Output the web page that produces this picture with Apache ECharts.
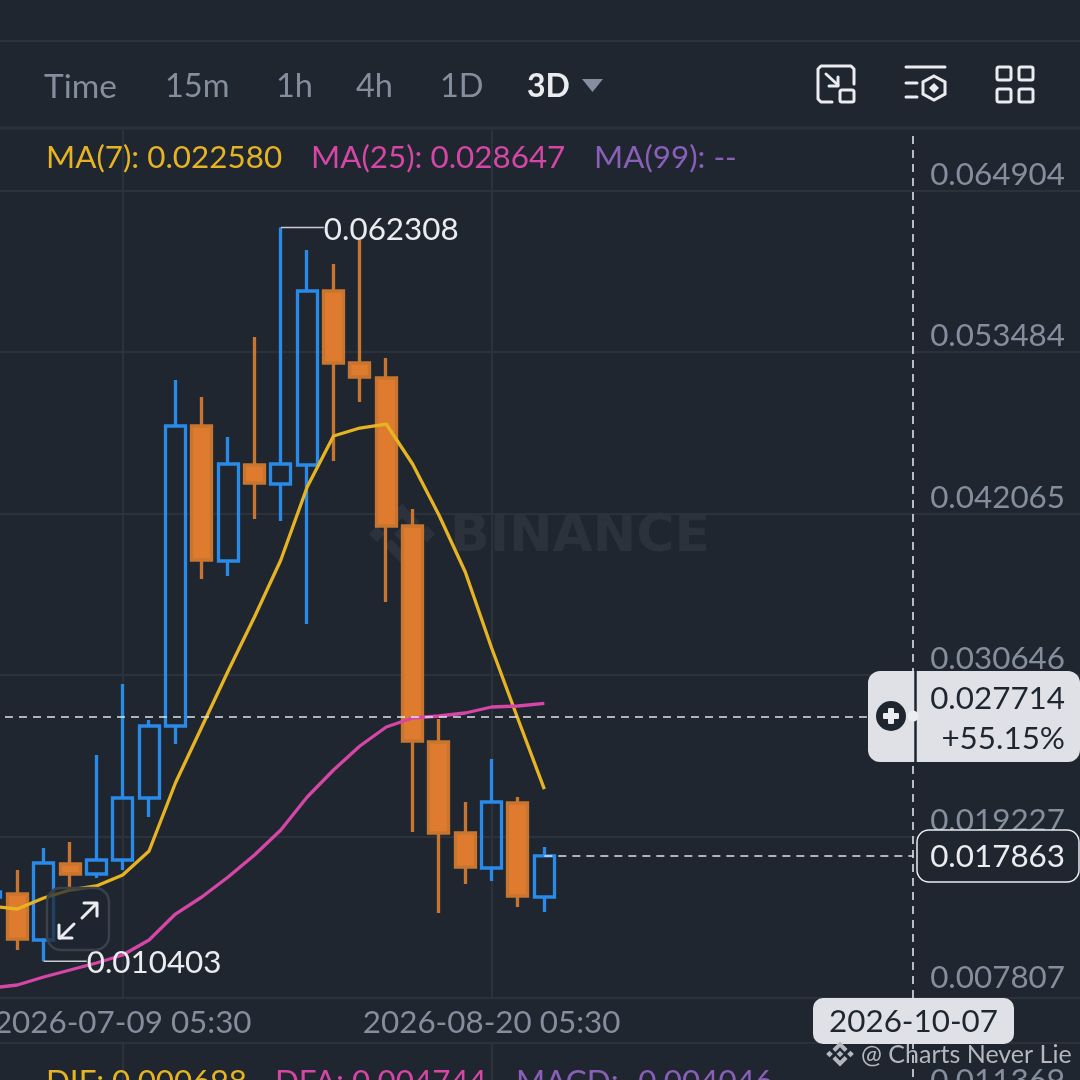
<!DOCTYPE html>
<html><head><meta charset="utf-8">
<style>html,body{margin:0;padding:0;background:#1f2630;overflow:hidden}#c{width:1080px;height:1080px}</style>
<script src="https://cdn.jsdelivr.net/npm/echarts@6/dist/echarts.min.js"></script>
</head><body><div id="c"></div>
<script>
const categories=['2026-06-24','2026-06-27','2026-06-30','2026-07-03','2026-07-06','2026-07-09','2026-07-12','2026-07-15','2026-07-18','2026-07-21','2026-07-24','2026-07-27','2026-07-30','2026-08-02','2026-08-05','2026-08-08','2026-08-11','2026-08-14','2026-08-17','2026-08-20','2026-08-23','2026-08-26','2026-08-29','2026-09-01','2026-09-04','2026-09-07','2026-09-10','2026-09-13','2026-09-16','2026-09-19','2026-09-22','2026-09-25','2026-09-28','2026-10-01','2026-10-04','2026-10-07','2026-10-10','2026-10-13','2026-10-16','2026-10-19','2026-10-22','2026-10-25'];
const opens =[.014950,.015162,.011909,.017284,.016576,.017567,.021952,.027044,.048262,.038714,.045503,.044160,.045503,.057810,.052717,.051657,.041189,.025912,.019476,.017001,.021598,.014950];
const closes=[.015303,.011979,.017354,.016576,.017567,.021952,.027044,.048262,.038784,.045574,.044230,.045574,.057810,.052717,.051727,.041189,.025983,.019476,.017072,.021669,.015021,.017863];
const lows  =[.014950,.011201,.010403,.015657,.016294,.016859,.020608,.025771,.037441,.037653,.041684,.041543,.034258,.045786,.049959,.035814,.019547,.013818,.015869,.016081,.014242,.013889];
const highs =[.015303,.016859,.018415,.018840,.024993,.030014,.027468,.051515,.050313,.047484,.054556,.062308,.060709,.059719,.061417,.053071,.042391,.027539,.021669,.024710,.022022,.018486];
const ma7 =[.014313,.014101,.014879,.015445,.015728,.016506,.018203,.023013,.026973,.030934,.034753,.038784,.043947,.047554,.048120,.048403,.045574,.041967,.037936,.032561,.027539,.022580];
const ma25=[.008514,.008726,.009292,.009787,.010282,.010848,.011909,.013747,.014950,.016364,.017920,.019688,.022022,.023932,.025629,.026973,.027610,.027751,.027963,.028388,.028458,.028647];
const priceTicks=[0.007807,0.019227,0.030646,0.042065,0.053484,0.064904];
const macdTicks=[0.011369];
const dateLabels=['2026-07-09','2026-08-20'];
const crossDate='2026-10-07', crossPrice=0.027714, lastPrice=0.017863, lastDate='2026-08-26';
const maxHigh=0.062308, minLow=0.010403;

const BG='#1f2630',GRID='#2b323c',GREY='#848e9c',LIGHT='#dfe1e6',BLUE='#2a8ae8',ORANGE='#de7b2e',ORANGE_B='#c8752f',FONT='Lato, sans-serif';
const FS=31.4;
const isDate=(i,v)=>dateLabels.includes(v);
function txt(text,x,y,fill,size,align,weight){return {type:'text',z:100,style:{text,x,y,fill,font:`${weight||'normal'} ${size||FS}px ${FONT}`,textAlign:align||'left',textVerticalAlign:'middle'},silent:true};}
function line(x1,y1,x2,y2,stroke,w,z){return {type:'line',z:z||100,shape:{x1,y1,x2,y2},style:{stroke,lineWidth:w||3,lineCap:'round'},silent:true};}
function pl(points,stroke,w,z){return {type:'polyline',z:z||100,shape:{points},style:{stroke,lineWidth:w||3,fill:'none',lineJoin:'round',lineCap:'round'},silent:true};}
function rr(x,y,w,h,r,fill,stroke,lw,z){return {type:'rect',z:z||90,shape:{x,y,width:w,height:h,r},style:{fill:fill||'none',stroke:stroke||'none',lineWidth:lw||0},silent:true};}
function poly(pts,fill,z,stroke,lw){return {type:'polygon',z:z||100,shape:{points:pts},style:{fill:fill||'none',stroke:stroke||'none',lineWidth:lw||0},silent:true};}
function dia(c,y,r,col,z){return poly([[c,y-r],[c+r,y],[c,y+r],[c-r,y]],col,z);}
function logo(cx,cy,s,col,z){const P=a=>a.map(p=>[cx+p[0]*s,cy+p[1]*s]);return [
 poly(P([[0,-30],[18,-12],[11,-5],[0,-16],[-11,-5],[-18,-12]]),col,z),
 poly(P([[0,30],[18,12],[11,5],[0,16],[-11,5],[-18,12]]),col,z),
 dia(cx,cy,8*s,col,z),dia(cx-25*s,cy,8*s,col,z),dia(cx+25*s,cy,8*s,col,z)];}

const dashed={color:LIGHT,type:[8,6],width:1.6};
const chart=echarts.init(document.getElementById('c'),null,{renderer:'canvas'});
chart.setOption({
 animation:false,backgroundColor:BG,
 grid:[{left:-22.2,top:130,width:1106.7,height:868,outerBoundsMode:'none'},{left:-22.2,top:1043,width:1106.7,height:160,outerBoundsMode:'none'}],
 xAxis:[
  {type:'category',gridIndex:0,data:categories,axisTick:{show:false},axisLine:{lineStyle:{color:GRID,width:2}},
   splitLine:{show:true,alignWithLabel:true,interval:isDate,lineStyle:{color:GRID,width:2}},
   axisLabel:{interval:isDate,color:GREY,fontFamily:FONT,fontSize:FS,margin:8,lineHeight:34,formatter:v=>v+' 05:30',hideOverlap:false}},
  {type:'category',gridIndex:1,position:'top',data:categories,axisTick:{show:false},axisLabel:{show:false},axisLine:{lineStyle:{color:GRID,width:2}},
   splitLine:{show:true,alignWithLabel:true,interval:isDate,lineStyle:{color:GRID,width:2}}}
 ],
 yAxis:[
  {type:'value',gridIndex:0,position:'right',min:0.007807,max:0.069197,axisLine:{show:false},
   axisTick:{show:false,customValues:priceTicks},splitLine:{show:true,lineStyle:{color:GRID,width:2}},
   axisLabel:{customValues:priceTicks,inside:true,margin:19.5,color:GREY,fontFamily:FONT,fontSize:FS,verticalAlign:'bottom',lineHeight:32,
    formatter:v=>v===priceTicks[0]?'{m|'+v.toFixed(6)+'}':v.toFixed(6),
    rich:{m:{color:GREY,fontFamily:FONT,fontSize:FS,lineHeight:40}},
    showMinLabel:true,showMaxLabel:true}},
  {type:'value',gridIndex:1,position:'right',min:0.00383,max:0.015,axisLine:{show:false},
   axisTick:{show:false,customValues:macdTicks},splitLine:{show:false},
   axisLabel:{customValues:macdTicks,inside:true,margin:19.5,color:GREY,fontFamily:FONT,fontSize:FS,verticalAlign:'bottom',lineHeight:28,formatter:v=>v.toFixed(6)}}
 ],
 series:[
  {type:'candlestick',name:'K',xAxisIndex:0,yAxisIndex:0,barWidth:20.5,z:3,
   itemStyle:{color:'rgba(0,0,0,0)',color0:ORANGE,borderColor:BLUE,borderColor0:ORANGE_B,borderWidth:3.3},
   data:opens.map((o,i)=>[o,closes[i],lows[i],highs[i]]),
   markPoint:{silent:true,symbol:'circle',symbolSize:0,animation:false,
    data:[
     {coord:[categories[highs.indexOf(maxHigh)],maxHigh],value:maxHigh},
     {coord:[categories[lows.indexOf(minLow)],minLow],value:minLow}
    ],
    label:{show:true,position:'right',distance:0,formatter:p=>'{l|}{t|'+p.value.toFixed(6)+'}',
     rich:{l:{width:43,height:1.5,backgroundColor:'#c9ccd1',verticalAlign:'middle'},
           t:{color:'#eaecef',fontFamily:FONT,fontSize:FS,lineHeight:36,verticalAlign:'middle',padding:[4,0,0,0]}}}},
   markLine:{silent:true,symbol:'none',animation:false,label:{show:false},lineStyle:dashed,
    data:[
     {xAxis:crossDate},
     [{xAxis:categories[0],yAxis:crossPrice},{xAxis:crossDate,yAxis:crossPrice}],
     [{xAxis:lastDate,yAxis:lastPrice},{xAxis:crossDate,yAxis:lastPrice}]
    ]}},
  {type:'line',name:'MA7',xAxisIndex:0,yAxisIndex:0,data:ma7,showSymbol:false,z:4,lineStyle:{color:'#e6b422',width:3.3},itemStyle:{color:'#e6b422'}},
  {type:'line',name:'MA25',xAxisIndex:0,yAxisIndex:0,data:ma25,showSymbol:false,z:4,lineStyle:{color:'#d646a6',width:3.3},itemStyle:{color:'#d646a6'}},
  {type:'line',name:'pane',xAxisIndex:1,yAxisIndex:1,data:[],showSymbol:false,
   markLine:{silent:true,symbol:'none',animation:false,label:{show:false},lineStyle:dashed,data:[{xAxis:crossDate}]}}
 ],
 graphic:[
  ...logo(402,534,1,'#2b323c',1),
  {type:'text',z:1,style:{text:'BINANCE',x:450,y:537,fill:'#2b323c',font:`bold 52px "DejaVu Sans"`,textAlign:'left',textVerticalAlign:'middle'},silent:true},
  line(0,41,1080,41,GRID,2),line(0,128,1080,128,GRID,3),
  txt('Time',44,87,GREY,33.5),txt('15m',165,87,GREY,32.5),txt('1h',276,87,GREY,32.5),txt('4h',356,87,GREY,32.5),txt('1D',440,87,GREY,32.5),
  txt('3D',527,87,'#eaecef',32,'left','bold'),
  poly([[582,79],[603,79],[592.5,92]],GREY),
  pl([[832,102],[821,102],[818,99],[818,69],[821,66],[851,66],[854,69],[854,84]],'#eaecef',3),
  line(826,74,838,85,'#eaecef',3),pl([[838,77],[838,86],[829,86]],'#eaecef',3),
  rr(840,90,14,12,2,'none','#eaecef',3,100),
  line(906,67,945,67,'#eaecef',3),line(906,83,917,83,'#eaecef',3),line(906,97,917,97,'#eaecef',3),
  poly([[934,76],[945,82],[945,94],[934,100],[923,94],[923,82]],null,100,'#eaecef',3),
  dia(934,88,5,'#eaecef',100),
  rr(997,67,14,13,2,'none','#eaecef',3,100),rr(1019,67,14,13,2,'none','#eaecef',3,100),rr(997,89,14,13,2,'none','#eaecef',3,100),rr(1019,89,14,13,2,'none','#eaecef',3,100),
  txt('MA(7): 0.022580',46,158,'#e6b422'),txt('MA(25): 0.028647',311,158,'#d646a6'),txt('MA(99): --',594,158,'#8a5fb8'),
  txt('DIF: 0.000698',46,1082,'#e6b422'),txt('DFA: 0.004744',275,1082,'#d646a6'),txt('MACD: -0.004046',516,1082,'#8a5fb8'),
  rr(47,888,62,62,14,'rgba(31,38,48,0.72)','#3a414c',2.5,50),
  line(82,918,96,904,'#eaecef',3,60),pl([[84,903],[97,903],[97,916]],'#eaecef',3,60),
  line(60,938,74,924,'#eaecef',3,60),pl([[72,938],[59,938],[59,925]],'#eaecef',3,60),
  rr(868,671,212,91,12,LIGHT,null,0,90),
  line(915.5,671,915.5,762,BG,2.5,91),
  {type:'circle',z:92,shape:{cx:913,cy:716,r:5.5},style:{fill:'#eceef1'},silent:true},
  {type:'circle',z:92,shape:{cx:891,cy:716,r:15},style:{fill:BG},silent:true},
  rr(883,713,16,6,1,'#eaecef',null,0,93),rr(888,708,6,16,1,'#eaecef',null,0,93),
  txt('0.027714',1065,699,BG,FS,'right'),txt('+55.15%',1065,739,BG,FS,'right'),
  rr(917,830,162,52,12,BG,'#eaecef',1.5,90),
  txt('0.017863',1065,857,'#eaecef',FS,'right'),
  rr(813,998,201,46,10,LIGHT,null,0,90),
  txt('2026-10-07',913.5,1022,BG,FS,'center'),
  ...logo(840,1054,0.42,'#b4b8be',100),
  txt('@ Charts Never Lie',861,1055,'#b4b8be',25)
 ]
});
</script></body></html>
